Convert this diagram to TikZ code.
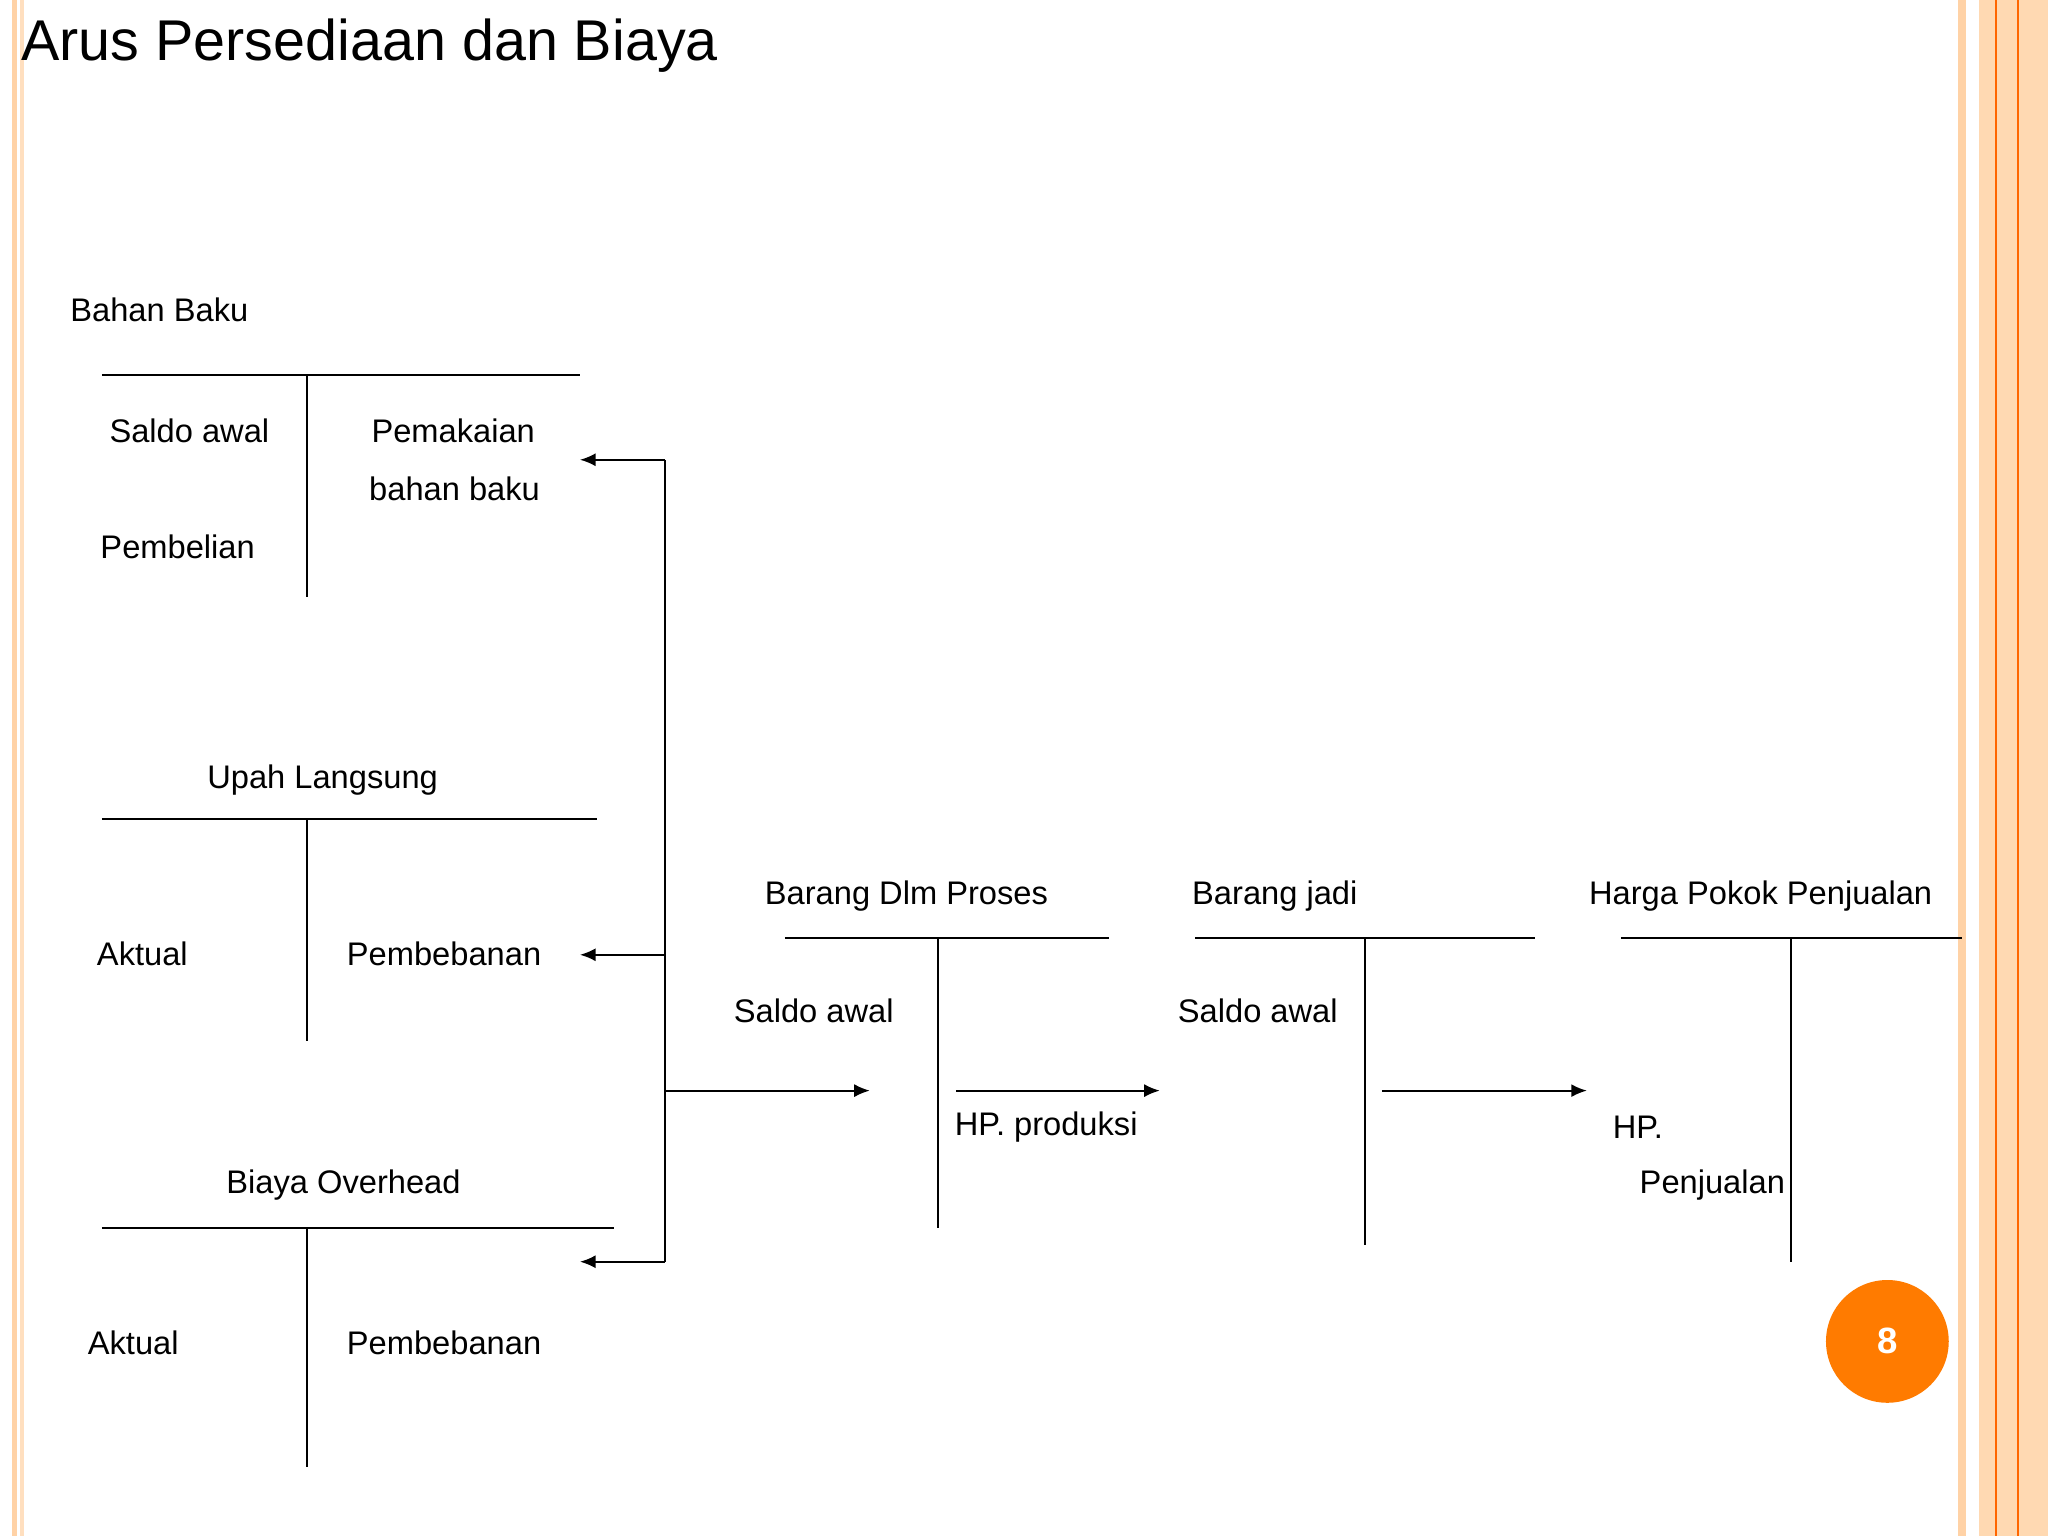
\documentclass[tikz,border=0pt]{standalone}
\usepackage{fontspec}
\setmainfont{Liberation Sans}
\usetikzlibrary{arrows.meta}
\begin{document}
\begin{tikzpicture}[x=0.5pt,y=-0.5pt,
  lbl/.style={font=\fontsize{12.5}{14}\selectfont,inner sep=0pt},
  tl/.style={line width=0.7pt},
  arr/.style={line width=0.8pt,-{Latex[length=6pt,width=5pt]}}]
\useasboundingbox (0,0) rectangle (1568,1176);
% borders
\fill[orange!35] (9,0) rectangle (13,1176);
\fill[orange!25] (15,0) rectangle (18,1176);
\fill[orange!35] (1499,0) rectangle (1505,1176);
\fill[orange!30] (1515,0) rectangle (1568,1176);
\draw[orange!80!red,line width=0.6pt] (1528,0)--(1528,1176) (1545,0)--(1545,1176);
% title
\node[anchor=west,font=\fontsize{22}{26}\selectfont,inner sep=0pt] (title) at (16,35) {Arus Persediaan dan Biaya};
% Bahan Baku
\node[lbl] (bb) at (122,237) {Bahan Baku};
\draw[tl] (78,287)--(444,287) (235,287)--(235,457);
\node[lbl] (bb1) at (145,330) {Saldo awal};
\node[lbl] (bb2) at (347,330) {Pemakaian};
\node[lbl] (bb3) at (348,374) {bahan baku};
\node[lbl] (bb4) at (136,419) {Pembelian};
% Upah
\node[lbl] (ul) at (247,597) {Upah Langsung};
\draw[tl] (78,627)--(457,627) (235,627)--(235,797);
\node[lbl] (ul1) at (109,730) {Aktual};
\node[lbl] (ul2) at (340,730) {Pembebanan};
% Overhead
\node[lbl] (bo) at (263,907) {Biaya Overhead};
\draw[tl] (78,940)--(470,940) (235,940)--(235,1123);
\node[lbl] (bo1) at (102,1028) {Aktual};
\node[lbl] (bo2) at (340,1028) {Pembebanan};
% connectors
\coordinate (t) at (509,352); \coordinate (m) at (509,731);
\coordinate (c) at (509,835); \coordinate (b) at (509,966);
\coordinate (a1) at (444,352); \coordinate (a2) at (444,731);
\coordinate (a3) at (444,966); \coordinate (a4) at (666,835);
\draw[line width=0.8pt] (t)--(b);
\draw[arr] (t)--(a1);
\draw[arr] (m)--(a2);
\draw[arr] (b)--(a3);
\draw[arr] (c)--(a4);
% Barang Dlm Proses
\node[lbl] (bp) at (694,686) {Barang Dlm Proses};
\draw[tl] (601,718)--(849,718) (718,718)--(718,940);
\node[lbl] (bp1) at (623,774) {Saldo awal};
\node[lbl] (bp2) at (801,863) {HP. produksi};
\coordinate (p1) at (732,835); \coordinate (p2) at (888,835);
\draw[arr] (p1)--(p2);
% Barang jadi
\node[lbl] (bj) at (976,686) {Barang jadi};
\draw[tl] (915,718)--(1175,718) (1045,718)--(1045,953);
\node[lbl] (bj1) at (963,774) {Saldo awal};
\coordinate (q1) at (1058,835); \coordinate (q2) at (1215,835);
\draw[arr] (q1)--(q2);
% HPP
\node[lbl] (hp) at (1348,686) {Harga Pokok Penjualan};
\draw[tl] (1241,718)--(1502,718) (1371,718)--(1371,966);
\node[lbl] (hp1) at (1254,863) {HP.};
\node[lbl] (hp2) at (1311,907) {Penjualan};
% page number
\fill[orange!85!red!90!yellow] (1445,1027) circle (47);
\node[font=\fontsize{14}{16}\selectfont\bfseries,text=white] (pg) at (1445,1027) {8};
\end{tikzpicture}
\end{document}
